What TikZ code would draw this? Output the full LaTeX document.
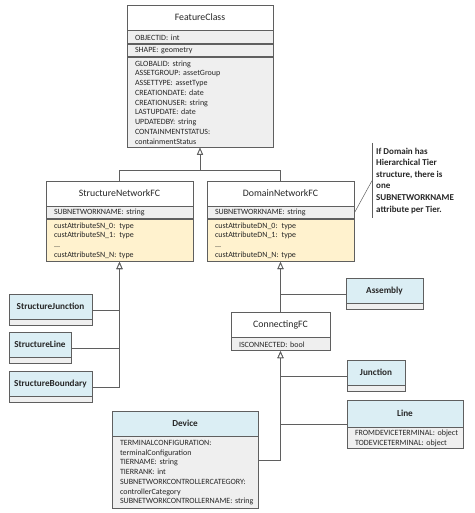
\documentclass[tikz,border=0pt]{standalone}
\usepackage{fontspec}
\setmainfont{Carlito}
\usetikzlibrary{positioning,arrows.meta,calc}

\definecolor{linec}{RGB}{95,95,95}
\definecolor{txtc}{RGB}{38,38,38}
\definecolor{bluef}{RGB}{219,238,244}
\definecolor{grayf}{RGB}{239,239,239}
\definecolor{yellowf}{RGB}{255,242,206}

\tikzset{
  cls/.style={draw=linec, fill=white, line width=0.8pt, minimum height=25pt, inner sep=0pt, text=txtc, font=\fontsize{9.8}{11}\selectfont},
  ent/.style={cls, fill=bluef, font=\bfseries\fontsize{9.2}{11}\selectfont},
  attr/.style={draw=linec, fill=grayf, line width=0.8pt, anchor=north, inner xsep=8pt, inner ysep=0pt, align=left, text=txtc, font=\fontsize{8}{9.75}\selectfont},
  cust/.style={attr, fill=yellowf},
  conn/.style={draw=linec, line width=0.8pt},
  inh/.style={conn, -{Triangle[open, fill=white, length=7pt, width=6pt]}},
}

\begin{document}
\begin{tikzpicture}[x=1pt,y=-1pt]
\useasboundingbox (0,0) rectangle (474,513);

% FeatureClass
\node[cls, minimum width=146pt] (FC) at (200,17.5) {FeatureClass};
\node[attr, below=0pt of FC, text width=130pt, minimum height=13pt] (FCo) {OBJECTID: int};
\node[attr, below=0pt of FCo, text width=130pt, minimum height=12pt] (FCs) {SHAPE: geometry};
\node[attr, below=0pt of FCs, text width=130pt, minimum height=90pt] (FCa) {GLOBALID: string\\ASSETGROUP: assetGroup\\ASSETTYPE: assetType\\CREATIONDATE: date\\CREATIONUSER: string\\LASTUPDATE: date\\UPDATEDBY: string\\CONTAINMENTSTATUS:\\containmentStatus};

% network FCs
\node[cls, minimum width=147pt] (SN) at (119.5,193.5) {StructureNetworkFC};
\node[attr, below=0pt of SN, text width=131pt, minimum height=12pt] (SNs) {SUBNETWORKNAME: string};
\node[cust, below=0pt of SNs, text width=131pt, minimum height=42pt] (SNc) {custAttributeSN\_0: type\\custAttributeSN\_1: type\\...\\custAttributeSN\_N: type};

\node[cls, minimum width=147pt] (DN) at (280.5,193.5) {DomainNetworkFC};
\node[attr, below=0pt of DN, text width=131pt, minimum height=12pt] (DNs) {SUBNETWORKNAME: string};
\node[cust, below=0pt of DNs, text width=131pt, minimum height=42pt] (DNc) {custAttributeDN\_0: type\\custAttributeDN\_1: type\\...\\custAttributeDN\_N: type};

% note
\node[anchor=north west, align=left, inner xsep=4pt, inner ysep=0pt, minimum height=75pt, text=txtc, font=\bfseries\fontsize{9}{11.6}\selectfont] (note) at (372,143) {If Domain has\\Hierarchical Tier\\structure, there is\\one\\SUBNETWORKNAME\\attribute per Tier.};

% structure classes
\node[ent, minimum width=83pt] (SJ) at (50.5,306.5) {StructureJunction};
\node[attr, below=0pt of SJ, text width=67pt, minimum height=6pt] (SJa) {};
\node[ent, minimum width=62pt] (SL) at (40,344.5) {StructureLine};
\node[attr, below=0pt of SL, text width=46pt, minimum height=6pt] (SLa) {};
\node[ent, minimum width=83pt] (SB) at (50.5,383.5) {StructureBoundary};
\node[attr, below=0pt of SB, text width=67pt, minimum height=6pt] (SBa) {};

% domain classes
\node[ent, minimum width=77pt] (AS) at (384.5,290.5) {Assembly};
\node[attr, below=0pt of AS, text width=61pt, minimum height=6pt] (ASa) {};

\node[cls, minimum width=99pt] (CN) at (280.5,324.5) {ConnectingFC};
\node[attr, below=0pt of CN, text width=83pt, minimum height=13pt] (CNa) {ISCONNECTED: bool};

\node[ent, minimum width=58pt] (JU) at (376,372.5) {Junction};
\node[attr, below=0pt of JU, text width=42pt, minimum height=6pt] (JUa) {};

\node[ent, minimum width=116pt, minimum height=27pt] (LN) at (405,413.5) {Line};
\node[attr, below=0pt of LN, text width=100pt, minimum height=21pt] (LNa) {\mbox{FROMDEVICETERMINAL: object}\\\mbox{TODEVICETERMINAL: object}};

\node[ent, minimum width=146pt] (DV) at (185,423.5) {Device};
\node[attr, below=0pt of DV, text width=130pt, minimum height=72pt] (DVa) {TERMINALCONFIGURATION:\\terminalConfiguration\\TIERNAME: string\\TIERRANK: int\\SUBNETWORKCONTROLLERCATEGORY:\\controllerCategory\\\mbox{SUBNETWORKCONTROLLERNAME: string}};

% connectors
\coordinate (fcj) at (200,170);
\draw[inh] (SN.north) |- (fcj) -- (FCa.south);
\draw[inh] (DN.north) |- (fcj) -- (FCa.south);

\draw[conn] (note.north west) -- (note.south west);
\draw[draw=linec, line width=0.5pt] (DNs.east) -- (note.west);

\draw[inh] ($(SJ.north east)!.5!(SJa.south east)$) -| (SNc.south);
\draw[inh] ($(SL.north east)!.5!(SLa.south east)$) -| (SNc.south);
\draw[inh] ($(SB.north east)!.5!(SBa.south east)$) -| (SNc.south);

\draw[inh] (CN.north) -- (DNc.south);
\draw[inh] ($(AS.north west)!.5!(ASa.south west)$) -| (DNc.south);

\draw[inh] ($(JU.north west)!.5!(JUa.south west)$) -| (CNa.south);
\draw[inh] ($(LN.north west)!.5!(LNa.south west)$) -| (CNa.south);
\draw[inh] ($(DV.north east)!.5!(DVa.south east)$) -| (CNa.south);

\end{tikzpicture}
\end{document}
